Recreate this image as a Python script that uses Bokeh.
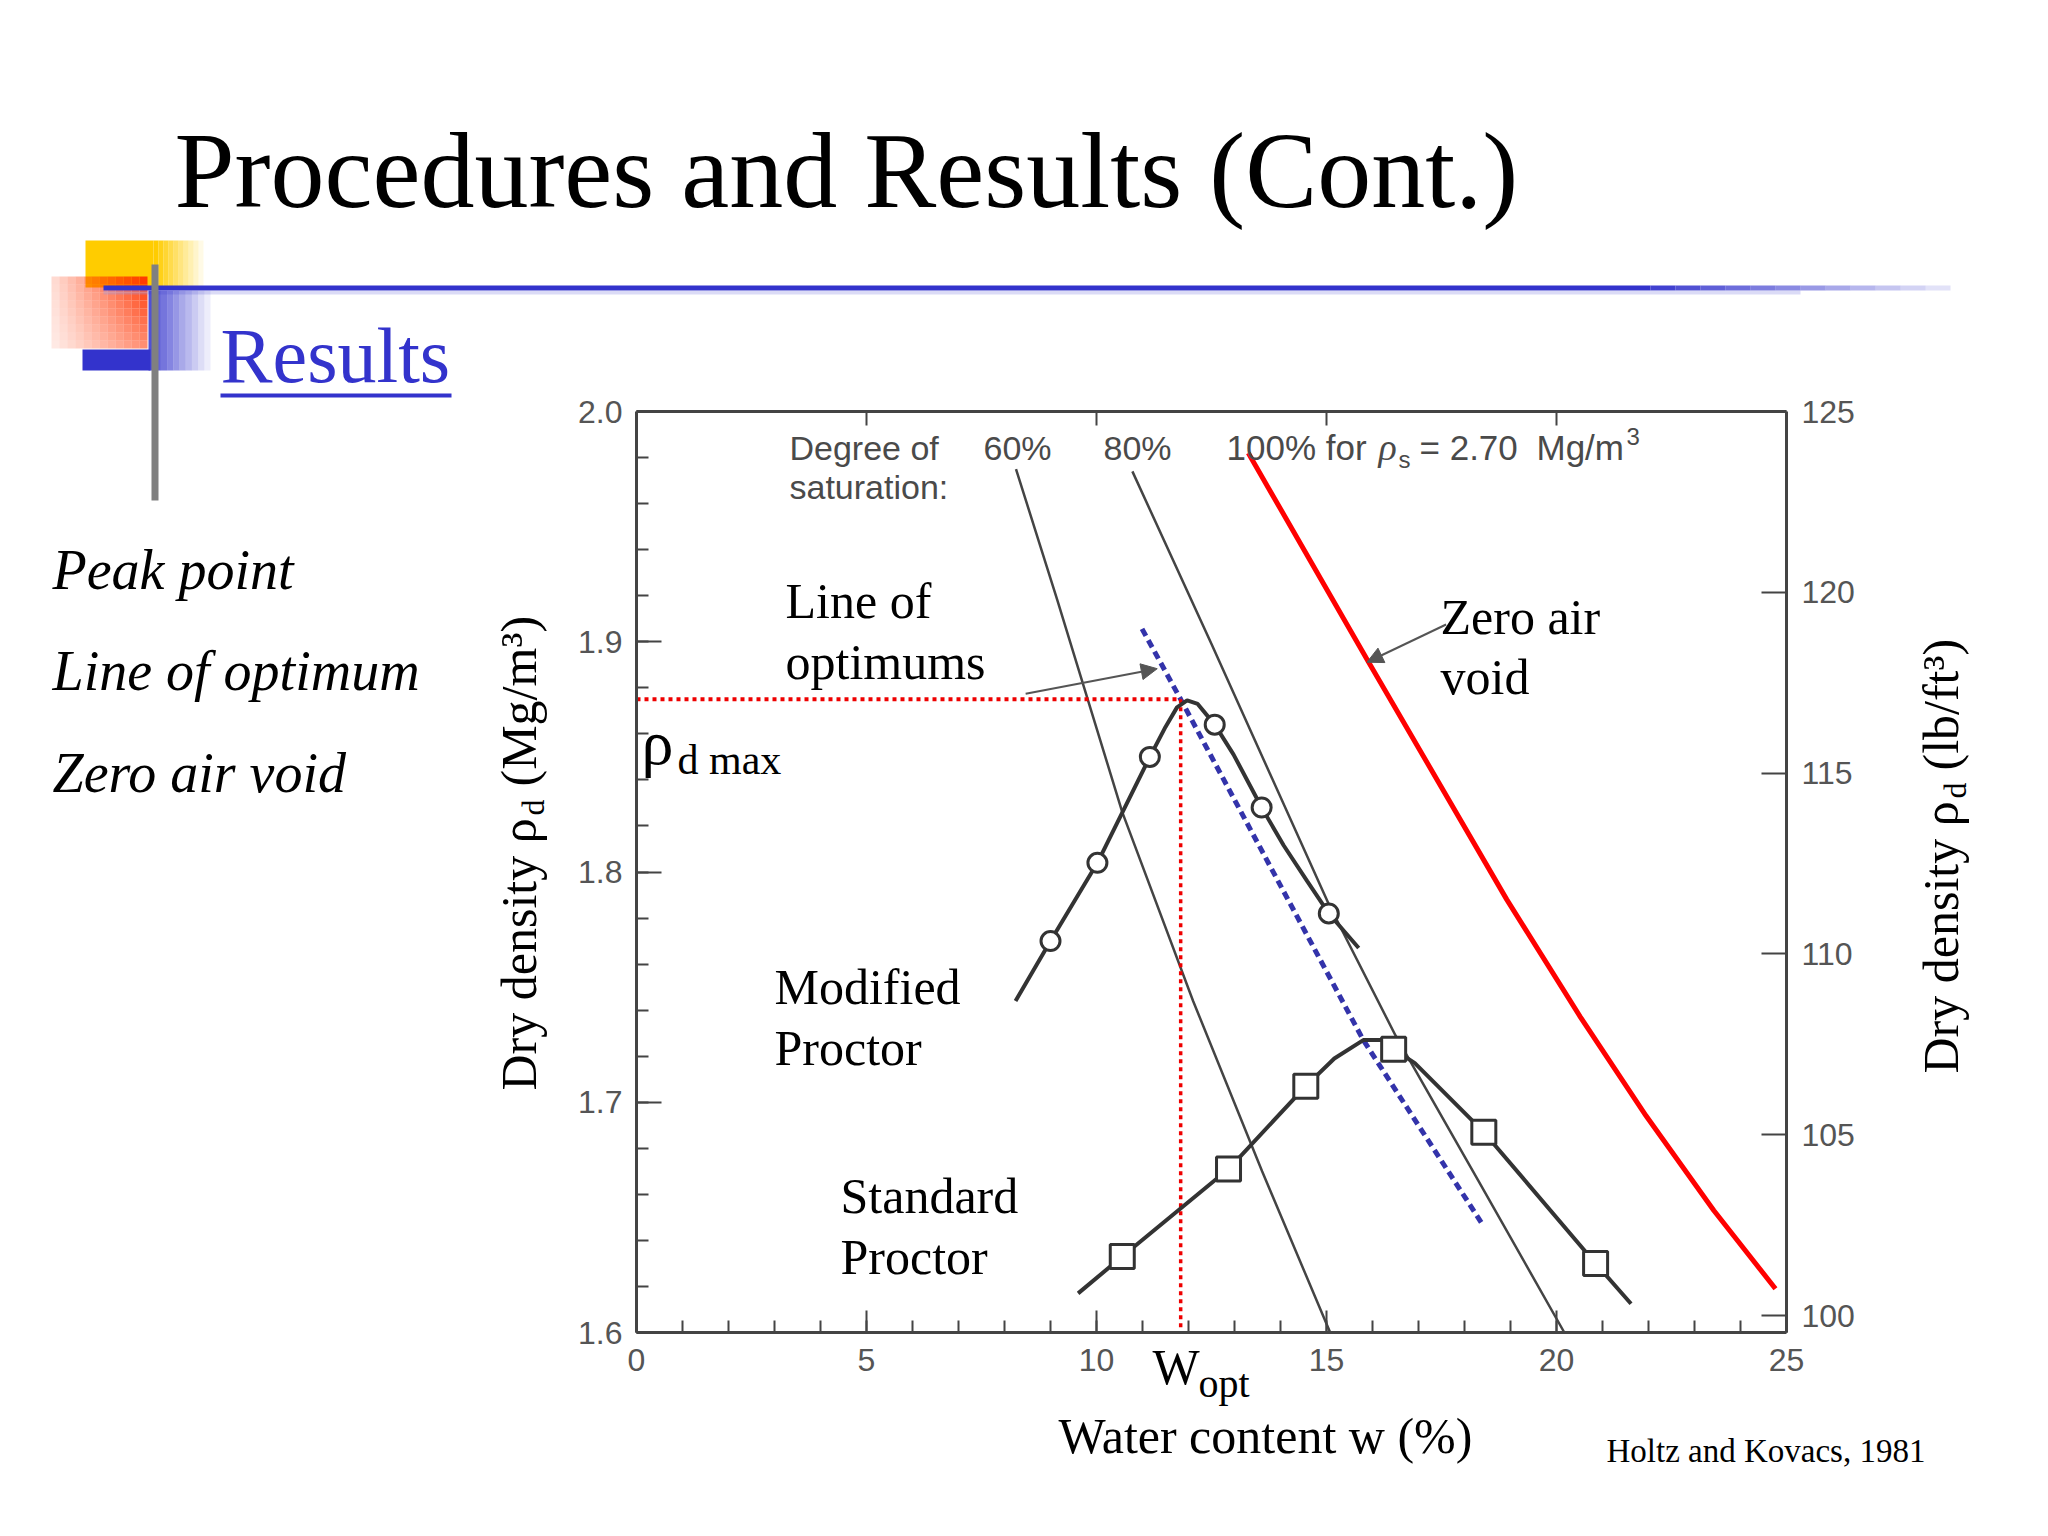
import math
from bokeh.plotting import figure
from bokeh.models import (Range1d, LinearAxis, FixedTicker, PrintfTickFormatter,
                          Label, BoxAnnotation, Arrow, NormalHead)
from bokeh.embed import file_html
from bokeh.resources import INLINE

# ---------------- data ----------------
mod_w = [9.0, 10.02, 11.16, 12.57, 13.59, 15.05]
mod_rho = [1.770, 1.804, 1.850, 1.864, 1.828, 1.782]
mod_curve_w = [8.24, 9.0, 10.02, 11.16, 11.5, 11.75, 11.97, 12.2, 12.57, 12.98, 13.59, 14.07, 14.58, 15.05, 15.7]
mod_curve_rho = [1.744, 1.770, 1.804, 1.850, 1.863, 1.8715, 1.8745, 1.873, 1.864, 1.851, 1.828, 1.8115, 1.796, 1.782, 1.767]

std_w = [10.56, 12.87, 14.55, 16.46, 18.42, 20.85]
std_rho = [1.633, 1.671, 1.707, 1.723, 1.687, 1.630]
std_curve_w = [9.6, 10.56, 12.87, 14.55, 15.17, 15.8, 16.23, 16.46, 16.92, 18.42, 20.85, 21.62]
std_curve_rho = [1.617, 1.633, 1.671, 1.707, 1.719, 1.727, 1.727, 1.723, 1.717, 1.687, 1.630, 1.6125]

s60_w = [8.25, 9.15, 10.56, 12.1, 13.6, 15.08]
s60_rho = [1.975, 1.918, 1.826, 1.744, 1.670, 1.600]
s80_w = [10.78, 12.5, 15.05, 16.5, 18.3, 20.17]
s80_rho = [1.974, 1.899, 1.786, 1.729, 1.666, 1.600]
zav_w = [13.3, 15.92, 18.92, 20.52, 21.95, 23.42, 24.76]
zav_rho = [1.982, 1.891, 1.788, 1.737, 1.694, 1.653, 1.619]

opt_w = [10.99, 11.83, 15.8, 18.39]
opt_rho = [1.9056, 1.875, 1.727, 1.647]

w_opt = 11.83
rho_max = 1.875

x_ticks = [0, 5, 10, 15, 20, 25]
x_minor = list(range(0, 26))
y_ticks = [1.6, 1.7, 1.8, 1.9, 2.0]
y_minor = [round(1.6 + 0.02 * i, 2) for i in range(21)]
top_ticks = [5, 10, 15, 20]
lb_ticks = [100, 105, 110, 115, 120, 125]
lb_low, lb_high = 99.53, 125.0

# ---------------- page geometry ----------------
W, H = 2048, 1536
FL, FT, FW, FH = 636, 411, 1150, 921      # chart box on the page
X0, X1, Y0, Y1 = 0.0, 25.0, 1.6, 2.0


def dx(px):
    return X0 + (px - FL) / FW * (X1 - X0)


def dy(py):
    return Y1 - (py - FT) / FH * (Y1 - Y0)


def dlb(py):
    return lb_high - (py - FT) / FH * (lb_high - lb_low)


p = figure(width=W, height=H,
           x_range=Range1d(dx(0), dx(W)), y_range=Range1d(dy(H), dy(0)),
           output_backend="svg", toolbar_location=None,
           min_border=0, min_border_left=0, min_border_right=0,
           min_border_top=0, min_border_bottom=0)
p.background_fill_color = "white"
p.border_fill_color = "white"
p.outline_line_color = None
p.xgrid.visible = False
p.ygrid.visible = False

AX = "#444444"
TL = "#555555"


def style_axis(ax, maj_in, min_in):
    ax.axis_line_color = AX
    ax.axis_line_width = 3
    ax.major_tick_line_color = AX
    ax.major_tick_line_width = 2
    ax.minor_tick_line_color = AX
    ax.minor_tick_line_width = 2
    ax.major_tick_in = maj_in
    ax.major_tick_out = 0
    ax.minor_tick_in = min_in
    ax.minor_tick_out = 0
    ax.major_label_text_font = "Liberation Sans"
    ax.major_label_text_font_size = "32px"
    ax.major_label_text_color = TL


xa = p.xaxis[0]
xa.ticker = FixedTicker(ticks=x_ticks, minor_ticks=x_minor)
xa.bounds = (X0, X1)
xa.fixed_location = Y0
style_axis(xa, 22, 12)
xa.major_label_standoff = 16

ya = p.yaxis[0]
ya.ticker = FixedTicker(ticks=y_ticks, minor_ticks=y_minor)
ya.formatter = PrintfTickFormatter(format="%.1f")
ya.bounds = (Y0, Y1)
ya.fixed_location = X0
style_axis(ya, 25, 12)
ya.major_label_standoff = 14

p.extra_y_ranges = {"lb": Range1d(dlb(H), dlb(0))}
ra = LinearAxis(y_range_name="lb", ticker=FixedTicker(ticks=lb_ticks, minor_ticks=[]),
                bounds=(lb_low, lb_high), fixed_location=X1)
style_axis(ra, 25, 0)
ra.major_label_standoff = 15
p.add_layout(ra, "right")

# top frame edge with its inward ticks
tick_len = 14 / FH * (Y1 - Y0)
p.line([X0, X1], [Y1, Y1], line_color=AX, line_width=3)
p.segment(x0=top_ticks, y0=[Y1] * len(top_ticks), x1=top_ticks,
          y1=[Y1 - tick_len] * len(top_ticks), line_color=AX, line_width=2)

# ---------------- glyphs ----------------
p.line(s60_w, s60_rho, line_color="#444444", line_width=2.5)
p.line(s80_w, s80_rho, line_color="#444444", line_width=2.5)
p.line(zav_w, zav_rho, line_color="#ff0000", line_width=5)
p.line(opt_w, opt_rho, line_color="#3333aa", line_width=5, line_dash="8 5")
p.line([X0, w_opt], [rho_max, rho_max], line_color="#ee0000", line_width=4, line_dash="4 4")
p.line([w_opt, w_opt], [rho_max, Y0], line_color="#ee0000", line_width=3.5, line_dash="4 4")
p.line(mod_curve_w, mod_curve_rho, line_color="#333333", line_width=4)
p.line(std_curve_w, std_curve_rho, line_color="#333333", line_width=4)
p.scatter(mod_w, mod_rho, marker="circle", size=19, fill_color="white", line_color="#333333", line_width=3)
p.scatter(std_w, std_rho, marker="square", size=24, fill_color="white", line_color="#333333", line_width=3)

p.add_layout(Arrow(end=NormalHead(size=16, fill_color="#555555", line_color="#555555"),
                   x_start=8.46, y_start=1.8774, x_end=11.32, y_end=1.8883,
                   line_color="#555555", line_width=2))
p.add_layout(Arrow(end=NormalHead(size=16, fill_color="#555555", line_color="#555555"),
                   x_start=17.6, y_start=1.9075, x_end=15.88, y_end=1.8911,
                   line_color="#555555", line_width=2))

# ---------------- texts ----------------
SERIF = "Liberation Serif"
SANS = "Liberation Sans"
BASE = 0.34   # label anchor sits ~0.34 em above the alphabetic baseline


def lab(text, X, Y, size, font=SERIF, color="black", style="normal", angle=0.0):
    if angle == 0.0:
        px, py = X, Y - BASE * size
    else:
        px, py = X - BASE * size, Y
    p.add_layout(Label(x=dx(px), y=dy(py), text=text, text_font=font,
                       text_font_size=f"{size}px", text_color=color,
                       text_font_style=style, text_align="left",
                       text_baseline="alphabetic", angle=angle))


def box(x1, y1, x2, y2, color, alpha=1.0):
    p.add_layout(BoxAnnotation(left=dx(x1), right=dx(x2), top=dy(y1), bottom=dy(y2),
                               fill_color=color, fill_alpha=alpha, line_color=None))


# slide decorations
box(85, 240, 153, 287, "#ffcc00")
for i in range(10):
    box(153 + i * 5, 240, 158 + i * 5, 287, "#ffcc00", 1.0 - i / 10.0)
NX, NY = 12, 9
cw, ch = (147 - 51) / NX, (348 - 276) / NY
for i in range(NX):
    for j in range(NY):
        u = 1.0 - (i + 0.5) / NX        # 0 at the right edge
        v = (j + 0.5) / NY              # 0 at the top edge
        a = max(0.0, (1.0 - 0.85 * u) * (1.0 - 0.45 * v))
        box(51 + i * cw, 276 + j * ch, 51 + (i + 1) * cw, 276 + (j + 1) * ch, "#ff3300", a)
box(103, 285, 1650, 290, "#3333cc")
for i in range(12):
    box(1650 + i * 25, 285, 1675 + i * 25, 290, "#3333cc", 1.0 - (i + 1) / 14.0)
box(103, 290, 1800, 294, "#9999e6", 0.35)
for i in range(10):
    box(148 + i * 6.2, 290, 148 + (i + 1) * 6.2, 370, "#3333cc", 0.85 * (1 - i / 10.0))
box(82, 349, 150, 370, "#3333cc")
box(151, 264, 158, 500, "#808080")

lab("Procedures and Results (Cont.)", 174, 207, 108)
lab("Results", 220, 382, 78, color="#3333cc")
box(220, 393, 451, 397, "#3333cc")

lab("Peak point", 52, 589, 56, style="italic")
lab("Line of optimum", 52, 690, 56, style="italic")
lab("Zero air void", 52, 792, 56, style="italic")

# axis titles
rot = math.pi / 2
lab("Dry density ρ", 535, 1090, 50, angle=rot)
lab("d", 543, 815, 32, angle=rot)
lab("(Mg/m³)", 535, 786, 50, angle=rot)
lab("Dry density ρ", 1957, 1073, 50, angle=rot)
lab("d", 1965, 798, 32, angle=rot)
lab("(lb/ft³)", 1957, 770, 50, angle=rot)
lab("Water content w (%)", 1058, 1452, 50)
lab("W", 1152, 1383, 50)
lab("opt", 1198, 1397, 40)
lab("Holtz and Kovacs, 1981", 1606, 1462, 33)

# in-chart annotations
lab("ρ", 641, 764, 64)
lab("d max", 677, 774, 42)
lab("Line of", 785, 617, 50)
lab("optimums", 785, 678, 50)
lab("Modified", 774, 1003, 50)
lab("Proctor", 774, 1064, 50)
lab("Standard", 840, 1212, 50)
lab("Proctor", 840, 1273, 50)
lab("Zero air", 1440, 633, 50)
lab("void", 1440, 693, 50)

GR = "#4a4a4a"
lab("Degree of", 789, 459, 34, font=SANS, color=GR)
lab("saturation:", 789, 498, 34, font=SANS, color=GR)
lab("60%", 983, 459, 34, font=SANS, color=GR)
lab("80%", 1103, 459, 34, font=SANS, color=GR)
lab("100% for", 1226, 459, 35, font=SANS, color=GR)
lab("ρ", 1378, 459, 38, color=GR, style="italic")
lab("s", 1398, 467, 24, font=SANS, color=GR)
lab("= 2.70", 1419, 459, 35, font=SANS, color=GR)
lab("Mg/m", 1536, 459, 35, font=SANS, color=GR)
lab("3", 1626, 444, 24, font=SANS, color=GR)

open("out.html", "w").write(file_html(p, INLINE))
